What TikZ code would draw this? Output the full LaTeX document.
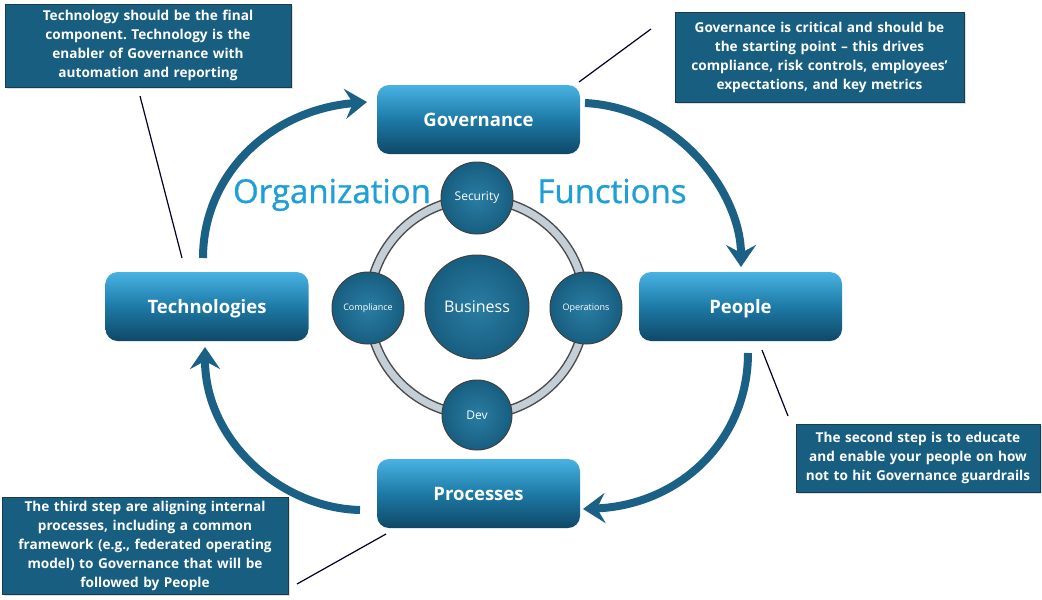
\documentclass[tikz,border=0pt]{standalone}
\usepackage{fontspec}
\setmainfont{Open Sans}
\newfontfamily\titlefont[BoldFont={Open Sans}, BoldFeatures={FakeBold=0.9}]{Open Sans}
\usetikzlibrary{arrows.meta,shadows}
\definecolor{notefill}{HTML}{175E80}
\definecolor{noteline}{HTML}{1A3A4E}
\definecolor{arrowc}{HTML}{1A6185}
\definecolor{btntop}{HTML}{48B2E3}
\definecolor{btnmid}{HTML}{1D7AA6}
\definecolor{btnbot}{HTML}{0F4867}
\definecolor{orgblue}{HTML}{1E9FD6}
\definecolor{ringc}{HTML}{C4CED7}
\definecolor{circfill}{HTML}{175E80}
\definecolor{circhi}{HTML}{2A7DA3}
\frenchspacing
\tikzset{
  note/.style={draw=noteline, line width=1pt, fill=notefill, text=white,
    font=\fontsize{13.6}{19}\selectfont\bfseries, align=center, inner sep=2pt,
    drop shadow={shadow xshift=1.5pt, shadow yshift=-1.5pt, opacity=0.25}},
  btn/.style={rounded corners=12pt, top color=btntop, bottom color=btnbot, middle color=btnmid,
    text=white, font=\fontsize{18.5}{20}\selectfont\bfseries, minimum width=203pt, minimum height=69pt,
    inner sep=0pt, text depth=-2pt},
  func/.style={circle, draw=black!75, line width=1pt, inner color=circhi, outer color=circfill, text=white, inner sep=0pt},
  flow/.style={arrowc, line width=8pt, -{Stealth[length=22pt, width=30pt, inset=8pt]}},
  callout/.style={black!85!blue, line width=1.2pt},
  titleword/.style={text=orgblue, font=\titlefont\bfseries\fontsize{33}{36}\selectfont, inner sep=0pt, anchor=base},
}
\begin{document}
\begin{tikzpicture}[x=1pt, y=-1pt]
\useasboundingbox (0,0) rectangle (1042,600);

% ring
\draw[black!70, line width=10pt] (477,307) circle (108);
\draw[ringc, line width=7pt] (477,307) circle (108);

% function circles
\node[func, minimum size=104pt, font=\fontsize{16}{18}\selectfont] (bus) at (477,307) {Business};
\node[func, minimum size=72pt, font=\fontsize{12}{13}\selectfont] (sec) at (477,198) {Security};
\node[func, minimum size=70pt, font=\fontsize{12}{13}\selectfont] (dev) at (477,415) {Dev};
\node[func, minimum size=72pt, font=\fontsize{9}{10}\selectfont] (comp) at (368,308) {Compliance};
\node[func, minimum size=72pt, font=\fontsize{9}{10}\selectfont] (ops) at (586,308) {Operations};

% title words
\node[titleword] (org) at (332,203) {Organization};
\node[titleword] (fun) at (612,203) {Functions};

% buttons
\node[btn] (gov) at (478.5,119.5) {Governance};
\node[btn] (tech) at (207,306.5) {Technologies};
\node[btn] (peo) at (740.5,306.5) {People};
\node[btn] (proc) at (478.5,493.5) {Processes};

% notes
\node[note, minimum width=286pt, minimum height=83pt, text width=280pt] (ntl) at (148,45.5)
  {Technology should be the final\\component. Technology is the\\enabler of Governance with\\automation and reporting};
\node[note, minimum width=289pt, minimum height=90pt, text width=283pt] (ntr) at (819.5,57)
  {Governance is critical and should be\\the starting point -- this drives\\compliance, risk controls, employees’\\expectations, and key metrics};
\node[note, minimum width=244pt, minimum height=68pt, text width=240pt] (nrb) at (918,458)
  {The second step is to educate\\and enable your people on how\\not to hit Governance guardrails};
\node[note, minimum width=286pt, minimum height=97pt, text width=280pt] (nbl) at (145,545.5)
  {The third step are aligning internal\\processes, including a common\\framework (e.g., federated operating\\model) to Governance that will be\\followed by People};

% flow arrows
\coordinate (a1s) at (585,103); \coordinate (a1e) at (741,267);
\coordinate (a2s) at (748,353); \coordinate (a2e) at (583,509);
\coordinate (a3s) at (360,510); \coordinate (a3e) at (205,347);
\coordinate (a4s) at (203,258); \coordinate (a4e) at (367,102);
\draw[flow] (a1s) .. controls (680,108) and (741,195) .. (a1e);
\draw[flow] (a2s) .. controls (748,440) and (680,505) .. (a2e);
\draw[flow] (a3s) .. controls (280,508) and (205,440) .. (a3e);
\draw[flow] (a4s) .. controls (203,175) and (270,110) .. (a4e);

% callout lines
\coordinate (c1a) at (140,96);  \coordinate (c1b) at (182,258);
\coordinate (c2a) at (579,82);  \coordinate (c2b) at (651,29);
\coordinate (c3a) at (762,350); \coordinate (c3b) at (788,416);
\coordinate (c4a) at (386,534); \coordinate (c4b) at (297,584);
\draw[callout] (c1a) -- (c1b);
\draw[callout] (c2a) -- (c2b);
\draw[callout] (c3a) -- (c3b);
\draw[callout] (c4a) -- (c4b);
\end{tikzpicture}
\end{document}
